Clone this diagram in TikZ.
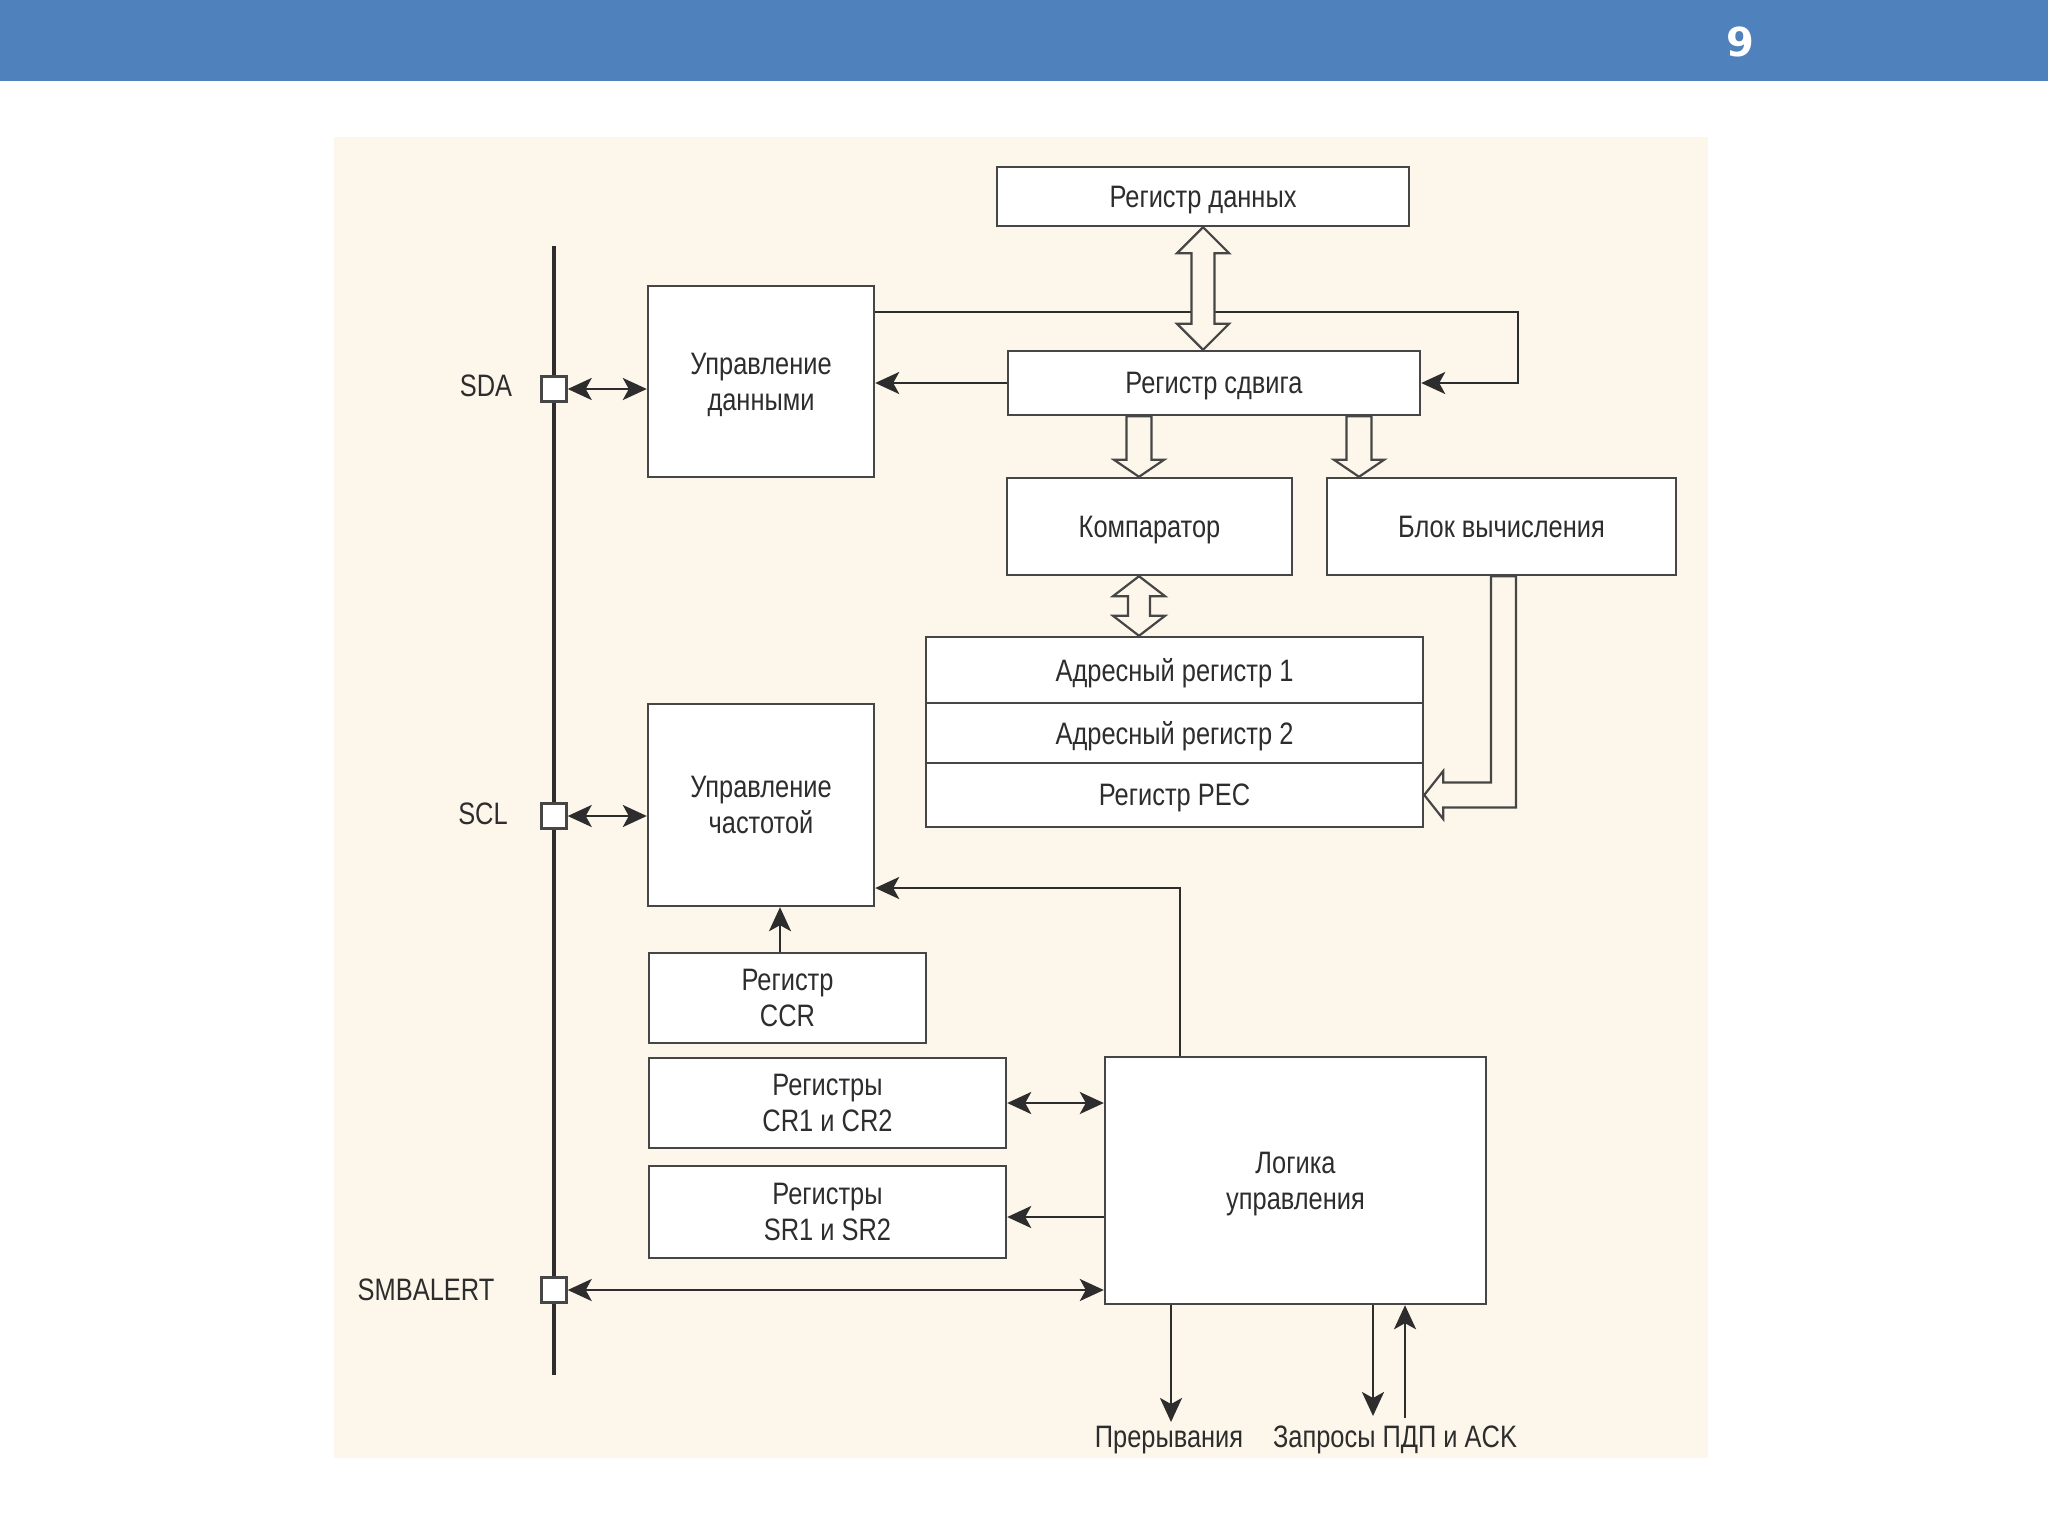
\documentclass[tikz,border=0pt]{standalone}
\usepackage{fontspec}
\setmainfont[FakeStretch=0.82]{Liberation Sans}
\newfontfamily\hdrfont{DejaVu Sans}
\usetikzlibrary{arrows.meta,calc}
\definecolor{hdr}{RGB}{79,129,189}
\definecolor{panel}{RGB}{253,246,235}
\definecolor{ink}{RGB}{45,45,45}
\definecolor{edge}{RGB}{70,70,70}
\newcommand\txt{\fontsize{15.5}{18}\selectfont}
\begin{document}
\begin{tikzpicture}[x=0.5pt,y=-0.5pt,
  >={Stealth[length=12pt,width=11pt,inset=3pt]},
  box/.style={draw=edge,line width=1.2pt,fill=white,inner sep=0pt,align=center,text=ink,font=\txt,text depth=0pt},
  lbl/.style={text=ink,font=\txt,inner sep=0pt,text depth=0pt},
  arr/.style={draw=ink,fill=ink,line width=1.3pt},
  hollow/.style={draw=edge,line width=1.1pt,fill=panel,line join=miter},
  pin/.style={draw=edge,line width=1.2pt,fill=white,minimum size=12.5pt,inner sep=0pt}]
\useasboundingbox (0,0) rectangle (2048,1536);
\fill[white] (0,0) rectangle (2048,1536);
\fill[hdr] (0,0) rectangle (2048,81);
\node[text=white,font=\hdrfont\bfseries\fontsize{20}{24}\selectfont] (num) at (1740,42) {9};
\fill[panel] (334,137) rectangle (1708,1458);

% bus
\coordinate (bt) at (554,246);
\coordinate (bb) at (554,1375);
\draw[ink,line width=1.7pt] (bt) -- (bb);
\node[pin] (sda) at (554,389) {};
\node[pin] (scl) at (554,816) {};
\node[pin] (smb) at (554,1290) {};
\node[lbl] (lsda) at (486,386) {SDA};
\node[lbl] (lscl) at (483,814) {SCL};
\node[lbl] (lsmb) at (426,1290) {SMBALERT};

% boxes
\node[box,minimum width=206pt,minimum height=29.5pt] (rd) at (1203,196.5) {Регистр данных};
\node[box,minimum width=113pt,minimum height=95.5pt] (ud) at (761,381.5) {Управление\\данными};
\node[box,minimum width=206pt,minimum height=32pt] (rs) at (1214,383) {Регистр сдвига};
\node[box,minimum width=142.5pt,minimum height=48.5pt] (komp) at (1149.5,526.5) {Компаратор};
\node[box,minimum width=174.5pt,minimum height=48.5pt] (blok) at (1501.5,526.5) {Блок вычисления};
\node[box,minimum width=248.5pt,minimum height=33pt] (ar1) at (1174.5,670) {Адресный регистр 1};
\node[box,minimum width=248.5pt,minimum height=30pt] (ar2) at (1174.5,733) {Адресный регистр 2};
\node[box,minimum width=248.5pt,minimum height=32pt] (pec) at (1174.5,795) {Регистр PEC};
\node[box,minimum width=113pt,minimum height=101pt] (uc) at (761,805) {Управление\\частотой};
\node[box,minimum width=138.5pt,minimum height=45pt] (ccr) at (787.5,998) {Регистр\\CCR};
\node[box,minimum width=178.5pt,minimum height=45pt] (cr) at (827.5,1103) {Регистры\\CR1 и CR2};
\node[box,minimum width=178.5pt,minimum height=46pt] (sr) at (827.5,1212) {Регистры\\SR1 и SR2};
\node[box,minimum width=190.5pt,minimum height=123.5pt] (log) at (1295.5,1180.5) {Логика\\управления};

% thin connectors
\draw[arr,<->] (sda.east) -- (sda.east -| ud.west);
\draw[arr,<->] (scl.east) -- (scl.east -| uc.west);
\draw[arr,<->] (smb.east) -- (smb.east -| log.west);
\draw[arr,->] (rs.west) -- (rs.west -| ud.east);
\coordinate (fb) at (1518,312);
\draw[arr,fill=none,->] (ud.east |- fb) -- (fb) |- (rs.east);
\coordinate (lg) at (1180,888);
\draw[arr,fill=none,->] (lg |- log.north) -- (lg) -- (lg -| uc.east);
\coordinate (cc) at (780,0);
\draw[arr,->] (cc |- ccr.north) -- (cc |- uc.south);
\draw[arr,<->] (cr.east) -- (cr.east -| log.west);
\coordinate (ys) at (0,1217);
\draw[arr,->] (log.west |- ys) -- (sr.east |- ys);
\coordinate (p1) at (1171,1422);
\coordinate (p2) at (1373,1416);
\coordinate (p3) at (1405,1418);
\draw[arr,->] (p1 |- log.south) -- (p1);
\draw[arr,->] (p2 |- log.south) -- (p2);
\draw[arr,->] (p3) -- (p3 |- log.south);
\node[lbl] (lint) at (1169,1437) {Прерывания};
\node[lbl] (lreq) at (1395,1437) {Запросы ПДП и ACK};

% hollow arrows
% data register <-> shift register
\coordinate (A1) at (rd.south);
\coordinate (B1) at (rd.south |- rs.north);
\draw[hollow] (A1) -- ($(A1)+(26,26)$) -- ($(A1)+(11.5,26)$) -- ($(B1)+(11.5,-26)$) -- ($(B1)+(26,-26)$) -- (B1)
  -- ($(B1)+(-26,-26)$) -- ($(B1)+(-11.5,-26)$) -- ($(A1)+(-11.5,26)$) -- ($(A1)+(-26,26)$) -- cycle;
% comparator <-> address registers
\coordinate (hx) at (1139,0);
\coordinate (A2) at (hx |- komp.south);
\coordinate (B2) at (hx |- ar1.north);
\draw[hollow] (A2) -- ($(A2)+(26,20)$) -- ($(A2)+(11,20)$) -- ($(B2)+(11,-20)$) -- ($(B2)+(26,-20)$) -- (B2)
  -- ($(B2)+(-26,-20)$) -- ($(B2)+(-11,-20)$) -- ($(A2)+(-11,20)$) -- ($(A2)+(-26,20)$) -- cycle;
% shift register -> comparator
\coordinate (A3) at (hx |- rs.south);
\coordinate (B3) at (hx |- komp.north);
\draw[hollow] ($(A3)+(-12.5,0)$) -- ($(A3)+(12.5,0)$) -- ($(B3)+(12.5,-17)$) -- ($(B3)+(25,-17)$) -- (B3)
  -- ($(B3)+(-25,-17)$) -- ($(B3)+(-12.5,-17)$) -- cycle;
% shift register -> CRC block
\coordinate (hy) at (1359,0);
\coordinate (A4) at (hy |- rs.south);
\coordinate (B4) at (hy |- blok.north);
\draw[hollow] ($(A4)+(-12.5,0)$) -- ($(A4)+(12.5,0)$) -- ($(B4)+(12.5,-17)$) -- ($(B4)+(25,-17)$) -- (B4)
  -- ($(B4)+(-25,-17)$) -- ($(B4)+(-12.5,-17)$) -- cycle;
% CRC block -> PEC register
\draw[hollow] ($(blok.south)+(-10.5,0)$) |- ($(pec.east)+(19,-12.5)$) -- ++(0,-11.5) -- (pec.east)
  -- ($(pec.east)+(19,24)$) -- ++(0,-11.5) -| ($(blok.south)+(14.5,0)$) -- cycle;
\end{tikzpicture}
\end{document}
